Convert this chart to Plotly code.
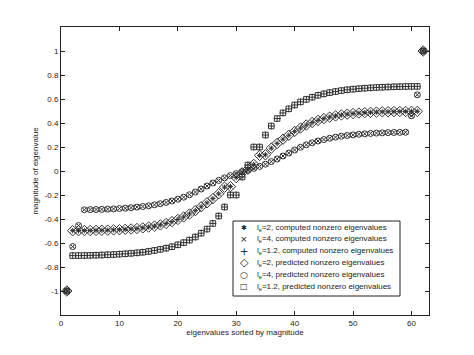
import plotly.graph_objects as go

# eigenvalue index (sorted by magnitude)
idx = list(range(1, 63))

# l_e = 2
le2_vals = [-1.0,
    -0.497, -0.497, -0.496, -0.496, -0.495, -0.494, -0.493, -0.491, -0.489, -0.486,
    -0.483, -0.479, -0.474, -0.467, -0.459, -0.449, -0.437, -0.422, -0.404, -0.383,
    -0.358, -0.330, -0.298, -0.265, -0.230, -0.190, -0.135, -0.130, -0.055, -0.015,
    0.015, 0.055, 0.130, 0.135, 0.190, 0.230, 0.265, 0.298, 0.330, 0.358,
    0.383, 0.404, 0.422, 0.437, 0.449, 0.459, 0.467, 0.474, 0.479, 0.483,
    0.486, 0.489, 0.491, 0.493, 0.494, 0.495, 0.496, 0.496, 0.497, 0.497,
    1.0]

# l_e = 4
le4_vals = [-1.0, -0.630, -0.455,
    -0.323, -0.322, -0.321, -0.320, -0.318, -0.316, -0.313, -0.310, -0.306, -0.301,
    -0.296, -0.290, -0.282, -0.273, -0.262, -0.250, -0.235, -0.218, -0.198, -0.175,
    -0.150, -0.125, -0.100, -0.078, -0.057, -0.038, -0.022, -0.007,
    0.007, 0.022, 0.038, 0.057, 0.078, 0.100, 0.125, 0.150, 0.175, 0.198,
    0.218, 0.235, 0.250, 0.262, 0.273, 0.282, 0.290, 0.296, 0.301, 0.306,
    0.310, 0.313, 0.316, 0.318, 0.320, 0.321, 0.322, 0.323,
    0.460, 0.635, 1.0]

# l_e = 1.2
le12_vals = [-1.0,
    -0.705, -0.705, -0.704, -0.703, -0.702, -0.700, -0.698, -0.696, -0.693, -0.690,
    -0.686, -0.682, -0.677, -0.670, -0.662, -0.653, -0.643, -0.631, -0.615, -0.597,
    -0.576, -0.550, -0.518, -0.484, -0.437, -0.375, -0.300, -0.200, -0.200, -0.050,
    0.050, 0.200, 0.200, 0.300, 0.375, 0.437, 0.484, 0.518, 0.550, 0.576,
    0.597, 0.615, 0.631, 0.643, 0.653, 0.662, 0.670, 0.677, 0.682, 0.686,
    0.690, 0.693, 0.696, 0.698, 0.700, 0.702, 0.703, 0.704, 0.705, 0.705,
    1.0]

x_ticks = [0, 10, 20, 30, 40, 50, 60]
y_ticks = [-1, -0.8, -0.6, -0.4, -0.2, 0, 0.2, 0.4, 0.6, 0.8, 1]
y_tick_text = ["-1", "-0.8", "-0.6", "-0.4", "-0.2", "0", "0.2", "0.4", "0.6", "0.8", "1"]

legend_labels = [
    "l<sub>e</sub>=2, computed nonzero eigenvalues",
    "l<sub>e</sub>=4, computed nonzero eigenvalues",
    "l<sub>e</sub>=1.2, computed nonzero eigenvalues",
    "l<sub>e</sub>=2, predicted nonzero eigenvalues",
    "l<sub>e</sub>=4, predicted nonzero eigenvalues",
    "l<sub>e</sub>=1.2, predicted nonzero eigenvalues",
]
legend_glyphs = ["✱", "×", "+", "◇", "○", "□"]
legend_glyph_sizes = [7, 9, 10, 11, 9, 8]

MC = "#333333"
FONT = "Liberation Sans, Arial, sans-serif"

fig = go.Figure()

series = [
    (le12_vals, "square-open", 5.5, "cross-thin-open", 5),
    (le4_vals, "circle-open", 6, "x-thin-open", 4.5),
    (le2_vals, "diamond-open", 8, "asterisk-open", 4.5),
]
for vals, psym, psize, csym, csize in series:
    fig.add_trace(go.Scatter(x=idx, y=vals, mode="markers", showlegend=False,
                             marker=dict(symbol=psym, size=psize, color=MC,
                                         line=dict(width=1, color=MC))))
    fig.add_trace(go.Scatter(x=idx, y=vals, mode="markers", showlegend=False,
                             marker=dict(symbol=csym, size=csize, color=MC,
                                         line=dict(width=1, color=MC))))

# custom compact legend (MATLAB style); positions in screen pixels of the plot area
px_left, px_right, py_top, py_bot = 61, 429, 27, 315
def xp(px):
    return (px - px_left) / (px_right - px_left)
def yp(py):
    return (py_bot - py) / (py_bot - py_top)

fig.add_shape(type="rect", xref="paper", yref="paper",
              x0=xp(233), x1=xp(400), y0=yp(296), y1=yp(221),
              line=dict(color="#222", width=1), fillcolor="white", layer="above")

for i, (lab, g, gs) in enumerate(zip(legend_labels, legend_glyphs, legend_glyph_sizes)):
    rowy = yp(227.5 + 11.8 * i)
    fig.add_annotation(x=xp(244), y=rowy, xref="paper", yref="paper", text=g,
                       showarrow=False, xanchor="center", yanchor="middle",
                       borderpad=0,
                       font=dict(family="DejaVu Sans", size=gs, color="#222"))
    fig.add_annotation(x=xp(256), y=rowy, xref="paper", yref="paper", text=lab,
                       showarrow=False, xanchor="left", yanchor="middle",
                       borderpad=0,
                       font=dict(family=FONT, size=8, color="#222"))

axis_common = dict(showline=True, linecolor="#222", linewidth=1, mirror="ticks",
                   ticks="inside", ticklen=4, tickcolor="#222", showgrid=False,
                   zeroline=False, tickfont=dict(family=FONT, size=8, color="#222"))

# the page body adds an 8px offset, so the figure is 8px smaller and shifted
fig.update_layout(
    width=466, height=347,
    margin=dict(l=53, r=45, t=19, b=40),
    paper_bgcolor="white", plot_bgcolor="white",
    font=dict(family=FONT, size=8, color="#222"),
    xaxis=dict(range=[0, 63], tickvals=x_ticks,
               title=dict(text="eigenvalues sorted by magnitude", standoff=2,
                          font=dict(family=FONT, size=8, color="#222")),
               **axis_common),
    yaxis=dict(range=[-1.2, 1.2], tickvals=y_ticks, ticktext=y_tick_text,
               title=dict(text="magnitude of eigenvalue", standoff=4,
                          font=dict(family=FONT, size=8, color="#222")),
               **axis_common),
)

fig.write_html("out.html")
